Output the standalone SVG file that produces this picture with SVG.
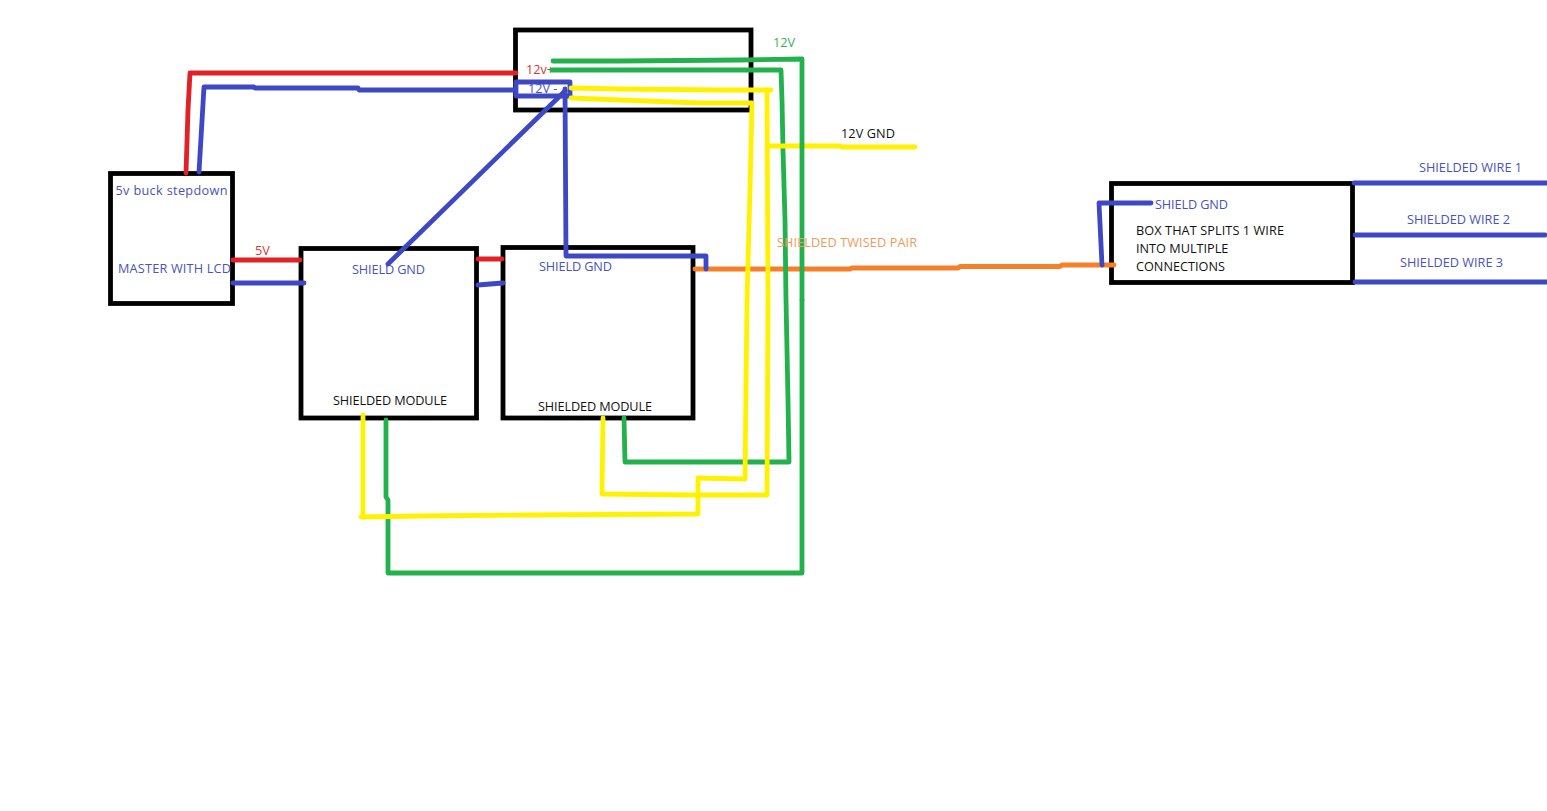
<svg xmlns="http://www.w3.org/2000/svg" width="1547" height="811" viewBox="0 0 1547 811">
<style>
.box{fill:none;stroke:#000;stroke-width:4.8}
.w{fill:none;stroke-width:4.8;stroke-linecap:round;stroke-linejoin:round}
.red{stroke:#e02127}.blue{stroke:#3f48c4}.green{stroke:#22b14c}.yellow{stroke:#fff200}.orange{stroke:#f58029}
text{font-family:"Open Sans","Noto Sans",sans-serif;font-size:12.7px}
.tb{fill:#4a52bd}.tk{fill:#111}.tr{fill:#d8343a}.tg{fill:#34b35c}.to{fill:#ef9a5e}
</style>
<rect width="1547" height="811" fill="#fff"/>
<g id="node-supply"><rect class="box" x="515.500" y="30" width="235.500" height="80"/><text class="tr" x="526" y="74">12v+</text><text class="tb" x="528" y="93">12V -</text></g>
<g id="node-master"><rect class="box" x="110.500" y="173.500" width="122" height="130"/><text class="tb" x="115.500" y="195" textLength="112">5v buck stepdown</text><text class="tb" x="118" y="273" textLength="113">MASTER WITH LCD</text></g>
<g id="node-module1"><rect class="box" x="301" y="248.500" width="175.500" height="169.500"/><text class="tb" x="352" y="274" textLength="73">SHIELD GND</text><text class="tk" x="333" y="405" textLength="114">SHIELDED MODULE</text></g>
<g id="node-module2"><rect class="box" x="503" y="247.500" width="190" height="170.500"/><text class="tb" x="539" y="271" textLength="73">SHIELD GND</text><text class="tk" x="538" y="411" textLength="114">SHIELDED MODULE</text></g>
<g id="node-splitter"><rect class="box" x="1111.500" y="183.500" width="241" height="99"/><text class="tb" x="1155" y="209" textLength="73">SHIELD GND</text><text class="tk" x="1136" y="235" textLength="148">BOX THAT SPLITS 1 WIRE</text><text class="tk" x="1136" y="253">INTO MULTIPLE</text><text class="tk" x="1136" y="271">CONNECTIONS</text></g>
<g id="connectors">
<path class="w orange" d="M695 269 L850 269 L852 268 L958 268 L960 266.500 L1060 266.500 L1062 265 L1114 265"/>
<path class="w green" d="M552 70 L781 70 L782 100 L783 150 L785 220 L786 300 L788 400 L789 462 L625 462 L624 418"/>
<path class="w green" d="M386 420 L386 497 L388 500 L388 573 L802 573 L802 300"/>
<path class="w red" d="M186 173 L188 110 L190 73 L516 73"/>
<path class="w red" d="M233 260 L300 260"/>
<path class="w red" d="M478 259 L502 259"/>
<path class="w blue" d="M199 172 L204 87 L254 87 L255 88 L358 88 L359 90 L516 90 L516 82 L570 82 L570 96 L516 96 L516 90"/>
<path class="w blue" d="M233 283 L304 283"/>
<path class="w blue" d="M478 285 L490 284 L503 283"/>
<path class="w blue" d="M388 264 L565 91"/>
<path class="w blue" d="M565 89 L566 256 L706 256 L706 269"/>
<path class="w blue" d="M1151 203 L1099 203 L1102 265"/>
<path class="w blue" d="M1354 183 L1547 183"/>
<path class="w blue" d="M1355 235 L1545 235"/>
<path class="w blue" d="M1355 282 L1547 282"/>
<path class="w yellow" d="M571 88 L620 89 L720 90 L771 90"/>
<path class="w yellow" d="M571 98 L620 100 L700 103 L752 103 L750 190 L747 300 L745 479 L698 478 L698 514 L530 515 L420 516 L361 517"/>
<path class="w yellow" d="M767 90 L768 300 L767 495 L690 495 L602 494 L603 418"/>
<path class="w yellow" d="M363 415 L363 517"/>
<path class="w yellow" d="M768 146 L840 146 L842 147 L915 147"/>
<path class="w green" d="M553 61 L620 61 L740 60 L802 59 L802 300"/>
</g>
<g id="labels">
<text class="tr" x="255" y="255">5V</text>
<text class="tg" x="773" y="47">12V</text>
<text class="tk" x="841" y="138" textLength="54">12V GND</text>
<text class="to" x="777" y="247" textLength="140">SHIELDED TWISED PAIR</text>
<text class="tb" x="1419" y="172" textLength="103">SHIELDED WIRE 1</text>
<text class="tb" x="1407" y="224" textLength="103">SHIELDED WIRE 2</text>
<text class="tb" x="1400" y="267" textLength="103">SHIELDED WIRE 3</text>
</g>
</svg>
